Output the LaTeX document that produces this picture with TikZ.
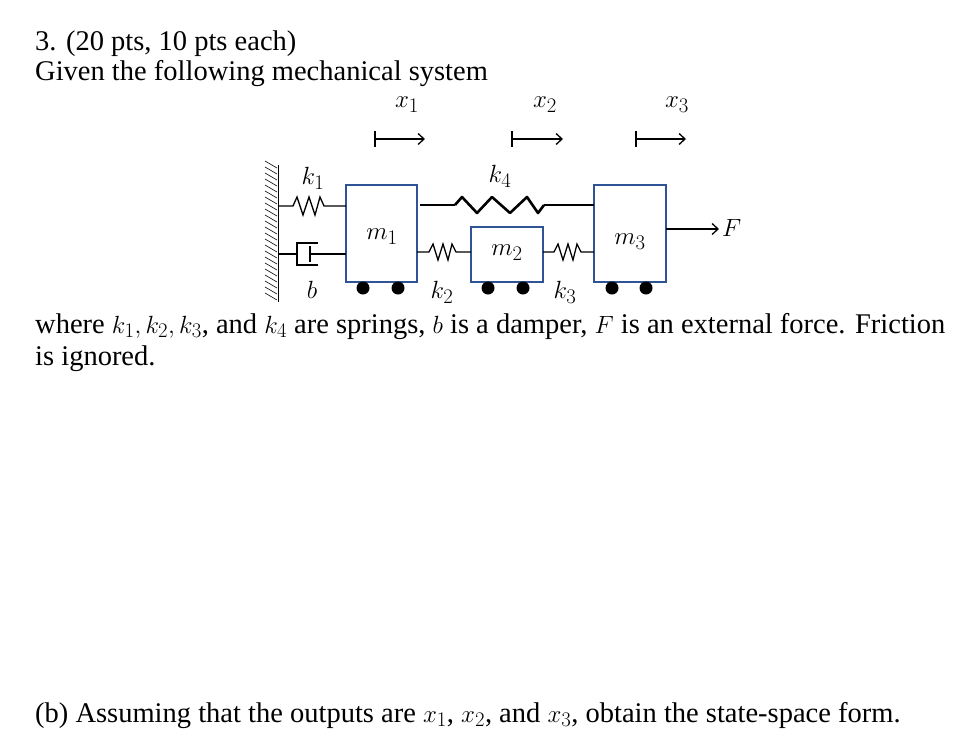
\documentclass[tikz,border=0pt]{standalone}
\usepackage{fontspec}
\setmainfont{Liberation Serif}
\usetikzlibrary{arrows.meta}
\definecolor{boxblue}{RGB}{47,84,150}
\begin{document}
\begin{tikzpicture}[x=1pt,y=-1pt,
  mass/.style={draw=boxblue,line width=1.8pt,fill=white},
  wire/.style={line width=1.3pt},
  wheel/.style={fill=black,circle,inner sep=0pt,minimum size=13pt},
  txt/.style={font=\fontsize{28.5}{30}\selectfont,anchor=base west,inner sep=0pt},
  lab/.style={font=\fontsize{28}{30}\selectfont,inner sep=0pt}]
\useasboundingbox (0,0) rectangle (970,742);
\node[txt] (t1) at (35,50) {3. (20 pts, 10 pts each)};
\node[txt] (t2) at (35,80) {Given the following mechanical system};
\node[txt] (t3) at (35,333) {where $k_1, k_2, k_3$, and $k_4$ are springs, $b$ is a damper, $F$ is an external force. Friction};
\node[txt] (t4) at (35,365) {is ignored.};
\node[txt] (t5) at (35,722) {(b) Assuming that the outputs are $x_1$, $x_2$, and $x_3$, obtain the state-space form.};
% wall
\foreach \y in {168,174,...,300} \draw[line width=0.6pt] (265,\y-7) -- (277,\y);
\draw[line width=1pt] (278,165) coordinate (w1) -- (278,302) coordinate (w2);
% masses
\draw[mass] (346,185) rectangle (417,282); \node[lab] (m1) at (382,237) {$m_1$};
\draw[mass] (471,227) rectangle (543,282); \node[lab] (m2) at (507,253) {$m_2$};
\draw[mass] (594,185) rectangle (666,282); \node[lab] (m3) at (630,242) {$m_3$};
% wheels
\foreach \x/\n in {363/a,398/b,488/c,523/d,612/e,646/f} \node[wheel] (wh\n) at (\x,288) {};
% k1
\draw[wire] (278,206) -- (293,206) -- (297,197) -- (303,215) -- (309,197) -- (315,215) -- (320,197) -- (324,206) -- (346,206);
% damper
\draw[wire] (278,254) -- (297,254);
\draw[wire] (318,243) -- (297,243) -- (297,265) -- (318,265);
\draw[wire] (310,246) -- (310,262);
\draw[wire] (310,254) -- (346,254);
% k4
\draw[wire] (420,205) -- (455,205);
\draw[line width=2.6pt,line join=round] (455,205) -- (462,197) -- (477,213) -- (492,197) -- (510,213) -- (527,197) -- (538,213) -- (544,205);
\draw[wire] (544,205) -- (594,205);
% k2
\draw[wire] (417,252) -- (429,252) -- (433,244) -- (438,260) -- (443,244) -- (448,260) -- (452,244) -- (456,252) -- (471,252);
% k3
\draw[wire] (543,252) -- (554,252) -- (558,244) -- (563,260) -- (568,244) -- (573,260) -- (577,244) -- (581,252) -- (594,252);
% F
\draw[wire,-{Straight Barb[length=6pt,width=11pt]}] (666,229) -- (719,229);
\node[lab,anchor=west] (F) at (722,228) {$F$};
% displacement arrows
\foreach \a/\b/\n in {375/425/1,512/563/2,636/686/3}{
  \draw[wire] (\a,131) -- (\a,147);
  \draw[wire,-{Straight Barb[length=6pt,width=11pt]}] (\a,139) -- (\b,139);
}
\node[lab] (x1) at (407,105) {$x_1$};
\node[lab] (x2) at (545,105) {$x_2$};
\node[lab] (x3) at (677,105) {$x_3$};
\node[lab] (k1) at (313,178) {$k_1$};
\node[lab] (k4) at (500,176) {$k_4$};
\node[lab] (b) at (312,290) {$b$};
\node[lab] (k2) at (442,292) {$k_2$};
\node[lab] (k3) at (565,292) {$k_3$};
\end{tikzpicture}
\end{document}
